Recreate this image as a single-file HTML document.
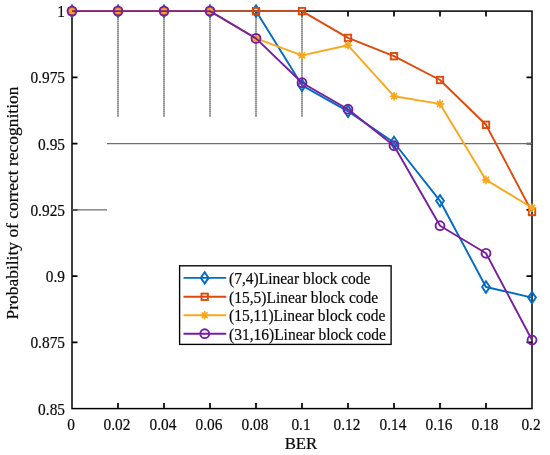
<!DOCTYPE html>
<html><head><meta charset="utf-8"><title>BER plot</title>
<style>
html,body{margin:0;padding:0;background:#fff}
#c{position:relative;width:550px;height:455px;overflow:hidden;background:#fff;font-family:"Liberation Serif",serif;color:#0a0a0a;-webkit-text-stroke:0.2px #0a0a0a}
.xt{position:absolute;top:414.6px;width:60px;height:20px;line-height:20px;text-align:center;font-size:16px;transform:scaleX(0.96)}
.yt{position:absolute;left:0;width:65px;height:20px;line-height:20px;text-align:right;font-size:16px;transform:scaleX(0.96);transform-origin:100% 50%}
.lg{position:absolute;left:229px;height:20px;line-height:20px;font-size:16px;white-space:nowrap;transform:scaleX(0.968);transform-origin:0 50%}
#xl{position:absolute;left:270.7px;top:433.5px;width:60px;height:20px;line-height:20px;text-align:center;font-size:17.3px;transform:scaleX(0.97)}
#yl{position:absolute;left:12.3px;top:202.9px;width:0;height:0;font-size:17.45px;white-space:nowrap}
#yl span{position:absolute;left:-150px;width:300px;top:-10px;height:20px;line-height:20px;text-align:center;transform:scaleX(0.96) rotate(-90deg);transform-origin:50% 50%}
</style></head><body>
<div id="c">
<svg width="550" height="455" viewBox="0 0 550 455" style="position:absolute;left:0;top:0">
<rect width="550" height="455" fill="#fff"/>
<rect x="72" y="11.1" width="460" height="397.5" fill="none" stroke="#000" stroke-width="1.5"/>
<path d="M118.0 408.6V403.1M118.0 11.1V16.6M164.0 408.6V403.1M164.0 11.1V16.6M210.0 408.6V403.1M210.0 11.1V16.6M256.0 408.6V403.1M256.0 11.1V16.6M302.0 408.6V403.1M302.0 11.1V16.6M348.0 408.6V403.1M348.0 11.1V16.6M394.0 408.6V403.1M394.0 11.1V16.6M440.0 408.6V403.1M440.0 11.1V16.6M486.0 408.6V403.1M486.0 11.1V16.6M72 77.4H77.5M532 77.4H526.5M72 143.6H77.5M532 143.6H526.5M72 209.8H77.5M532 209.8H526.5M72 276.1H77.5M532 276.1H526.5M72 342.4H77.5M532 342.4H526.5" stroke="#000" stroke-width="1.7" fill="none"/>
<path d="M118.0 11.1V117M164.0 11.1V117M210.0 11.1V117M256.0 11.1V117M302.0 11.1V117" stroke="#585858" stroke-width="1.25" fill="none" stroke-dasharray="1.6 0.4"/>
<path d="M107 143.6H532M72 209.8H107" stroke="#6e6e6e" stroke-width="1.3" fill="none"/>
<polyline points="72.0,11.1 118.0,11.1 164.0,11.1 210.0,11.1 256.0,11.1 302.0,85.3 348.0,111.3 394.0,142.5 440.0,200.8 486.0,287.0 532.0,297.6" fill="none" stroke="#006CC2" stroke-width="1.9" stroke-linejoin="round"/>
<path d="M72.0 5.4L75.9 11.1L72.0 16.8L68.1 11.1Z" fill="none" stroke="#006CC2" stroke-width="1.9" stroke-linejoin="miter"/>
<path d="M118.0 5.4L121.9 11.1L118.0 16.8L114.1 11.1Z" fill="none" stroke="#006CC2" stroke-width="1.9" stroke-linejoin="miter"/>
<path d="M164.0 5.4L167.9 11.1L164.0 16.8L160.1 11.1Z" fill="none" stroke="#006CC2" stroke-width="1.9" stroke-linejoin="miter"/>
<path d="M210.0 5.4L213.9 11.1L210.0 16.8L206.1 11.1Z" fill="none" stroke="#006CC2" stroke-width="1.9" stroke-linejoin="miter"/>
<path d="M256.0 5.4L259.9 11.1L256.0 16.8L252.1 11.1Z" fill="none" stroke="#006CC2" stroke-width="1.9" stroke-linejoin="miter"/>
<path d="M302.0 79.6L305.9 85.3L302.0 91.0L298.1 85.3Z" fill="none" stroke="#006CC2" stroke-width="1.9" stroke-linejoin="miter"/>
<path d="M348.0 105.6L351.9 111.3L348.0 117.0L344.1 111.3Z" fill="none" stroke="#006CC2" stroke-width="1.9" stroke-linejoin="miter"/>
<path d="M394.0 136.8L397.9 142.5L394.0 148.2L390.1 142.5Z" fill="none" stroke="#006CC2" stroke-width="1.9" stroke-linejoin="miter"/>
<path d="M440.0 195.1L443.9 200.8L440.0 206.5L436.1 200.8Z" fill="none" stroke="#006CC2" stroke-width="1.9" stroke-linejoin="miter"/>
<path d="M486.0 281.3L489.9 287.0L486.0 292.7L482.1 287.0Z" fill="none" stroke="#006CC2" stroke-width="1.9" stroke-linejoin="miter"/>
<path d="M532.0 291.9L535.9 297.6L532.0 303.3L528.1 297.6Z" fill="none" stroke="#006CC2" stroke-width="1.9" stroke-linejoin="miter"/>
<polyline points="72.0,11.1 118.0,11.1 164.0,11.1 210.0,11.1 256.0,11.1 302.0,11.1 348.0,37.9 394.0,56.2 440.0,80.0 486.0,124.8 532.0,212.0" fill="none" stroke="#DE4A0C" stroke-width="1.9" stroke-linejoin="round"/>
<rect x="68.8" y="7.9" width="6.4" height="6.4" fill="none" stroke="#DE4A0C" stroke-width="1.9"/>
<rect x="114.8" y="7.9" width="6.4" height="6.4" fill="none" stroke="#DE4A0C" stroke-width="1.9"/>
<rect x="160.8" y="7.9" width="6.4" height="6.4" fill="none" stroke="#DE4A0C" stroke-width="1.9"/>
<rect x="206.8" y="7.9" width="6.4" height="6.4" fill="none" stroke="#DE4A0C" stroke-width="1.9"/>
<rect x="252.8" y="7.9" width="6.4" height="6.4" fill="none" stroke="#DE4A0C" stroke-width="1.9"/>
<rect x="298.8" y="7.9" width="6.4" height="6.4" fill="none" stroke="#DE4A0C" stroke-width="1.9"/>
<rect x="344.8" y="34.7" width="6.4" height="6.4" fill="none" stroke="#DE4A0C" stroke-width="1.9"/>
<rect x="390.8" y="53.0" width="6.4" height="6.4" fill="none" stroke="#DE4A0C" stroke-width="1.9"/>
<rect x="436.8" y="76.8" width="6.4" height="6.4" fill="none" stroke="#DE4A0C" stroke-width="1.9"/>
<rect x="482.8" y="121.6" width="6.4" height="6.4" fill="none" stroke="#DE4A0C" stroke-width="1.9"/>
<rect x="528.8" y="208.8" width="6.4" height="6.4" fill="none" stroke="#DE4A0C" stroke-width="1.9"/>
<polyline points="72.0,11.1 118.0,11.1 164.0,11.1 210.0,11.1 256.0,38.4 302.0,55.4 348.0,45.3 394.0,96.2 440.0,103.9 486.0,179.9 532.0,207.7" fill="none" stroke="#F7A81C" stroke-width="1.9" stroke-linejoin="round"/>
<path d="M67.7 11.1L76.3 11.1M69.0 8.1L75.0 14.1M72.0 6.8L72.0 15.4M75.0 8.1L69.0 14.1" fill="none" stroke="#F7A81C" stroke-width="1.5"/><circle cx="72.0" cy="11.1" r="2.7" fill="#F7A81C"/>
<path d="M113.7 11.1L122.3 11.1M115.0 8.1L121.0 14.1M118.0 6.8L118.0 15.4M121.0 8.1L115.0 14.1" fill="none" stroke="#F7A81C" stroke-width="1.5"/><circle cx="118.0" cy="11.1" r="2.7" fill="#F7A81C"/>
<path d="M159.7 11.1L168.3 11.1M161.0 8.1L167.0 14.1M164.0 6.8L164.0 15.4M167.0 8.1L161.0 14.1" fill="none" stroke="#F7A81C" stroke-width="1.5"/><circle cx="164.0" cy="11.1" r="2.7" fill="#F7A81C"/>
<path d="M205.7 11.1L214.3 11.1M207.0 8.1L213.0 14.1M210.0 6.8L210.0 15.4M213.0 8.1L207.0 14.1" fill="none" stroke="#F7A81C" stroke-width="1.5"/><circle cx="210.0" cy="11.1" r="2.7" fill="#F7A81C"/>
<path d="M251.7 38.4L260.3 38.4M253.0 35.4L259.0 41.4M256.0 34.1L256.0 42.7M259.0 35.4L253.0 41.4" fill="none" stroke="#F7A81C" stroke-width="1.5"/><circle cx="256.0" cy="38.4" r="2.7" fill="#F7A81C"/>
<path d="M297.7 55.4L306.3 55.4M299.0 52.3L305.0 58.4M302.0 51.1L302.0 59.7M305.0 52.3L299.0 58.4" fill="none" stroke="#F7A81C" stroke-width="1.5"/><circle cx="302.0" cy="55.4" r="2.7" fill="#F7A81C"/>
<path d="M343.7 45.3L352.3 45.3M345.0 42.2L351.0 48.3M348.0 41.0L348.0 49.6M351.0 42.2L345.0 48.3" fill="none" stroke="#F7A81C" stroke-width="1.5"/><circle cx="348.0" cy="45.3" r="2.7" fill="#F7A81C"/>
<path d="M389.7 96.2L398.3 96.2M391.0 93.1L397.0 99.2M394.0 91.9L394.0 100.5M397.0 93.1L391.0 99.2" fill="none" stroke="#F7A81C" stroke-width="1.5"/><circle cx="394.0" cy="96.2" r="2.7" fill="#F7A81C"/>
<path d="M435.7 103.9L444.3 103.9M437.0 100.8L443.0 106.9M440.0 99.6L440.0 108.2M443.0 100.8L437.0 106.9" fill="none" stroke="#F7A81C" stroke-width="1.5"/><circle cx="440.0" cy="103.9" r="2.7" fill="#F7A81C"/>
<path d="M481.7 179.9L490.3 179.9M483.0 176.9L489.0 182.9M486.0 175.6L486.0 184.2M489.0 176.9L483.0 182.9" fill="none" stroke="#F7A81C" stroke-width="1.5"/><circle cx="486.0" cy="179.9" r="2.7" fill="#F7A81C"/>
<path d="M527.7 207.7L536.3 207.7M529.0 204.7L535.0 210.8M532.0 203.4L532.0 212.0M535.0 204.7L529.0 210.8" fill="none" stroke="#F7A81C" stroke-width="1.5"/><circle cx="532.0" cy="207.7" r="2.7" fill="#F7A81C"/>
<polyline points="72.0,11.1 118.0,11.1 164.0,11.1 210.0,11.1 256.0,38.4 302.0,82.7 348.0,109.2 394.0,145.7 440.0,225.7 486.0,253.3 532.0,340.0" fill="none" stroke="#771FA0" stroke-width="1.9" stroke-linejoin="round"/>
<circle cx="72.0" cy="11.1" r="4.45" fill="none" stroke="#771FA0" stroke-width="1.9"/>
<circle cx="118.0" cy="11.1" r="4.45" fill="none" stroke="#771FA0" stroke-width="1.9"/>
<circle cx="164.0" cy="11.1" r="4.45" fill="none" stroke="#771FA0" stroke-width="1.9"/>
<circle cx="210.0" cy="11.1" r="4.45" fill="none" stroke="#771FA0" stroke-width="1.9"/>
<circle cx="256.0" cy="38.4" r="4.45" fill="none" stroke="#771FA0" stroke-width="1.9"/>
<circle cx="302.0" cy="82.7" r="4.45" fill="none" stroke="#771FA0" stroke-width="1.9"/>
<circle cx="348.0" cy="109.2" r="4.45" fill="none" stroke="#771FA0" stroke-width="1.9"/>
<circle cx="394.0" cy="145.7" r="4.45" fill="none" stroke="#771FA0" stroke-width="1.9"/>
<circle cx="440.0" cy="225.7" r="4.45" fill="none" stroke="#771FA0" stroke-width="1.9"/>
<circle cx="486.0" cy="253.3" r="4.45" fill="none" stroke="#771FA0" stroke-width="1.9"/>
<circle cx="532.0" cy="340.0" r="4.45" fill="none" stroke="#771FA0" stroke-width="1.9"/>
<rect x="179.6" y="265.8" width="211.5" height="78.6" fill="#fff" stroke="#000" stroke-width="1.35"/>
<path d="M183.5 277.9H226.2" stroke="#006CC2" stroke-width="1.9"/>
<path d="M204.7 272.2L208.6 277.9L204.7 283.6L200.8 277.9Z" fill="none" stroke="#006CC2" stroke-width="1.9" stroke-linejoin="miter"/>
<path d="M183.5 296.8H226.2" stroke="#DE4A0C" stroke-width="1.9"/>
<rect x="201.5" y="293.6" width="6.4" height="6.4" fill="none" stroke="#DE4A0C" stroke-width="1.9"/>
<path d="M183.5 315.3H226.2" stroke="#F7A81C" stroke-width="1.9"/>
<path d="M200.4 315.3L209.0 315.3M201.7 312.3L207.7 318.3M204.7 311.0L204.7 319.6M207.7 312.3L201.7 318.3" fill="none" stroke="#F7A81C" stroke-width="1.5"/><circle cx="204.7" cy="315.3" r="2.7" fill="#F7A81C"/>
<path d="M183.5 333.7H226.2" stroke="#771FA0" stroke-width="1.9"/>
<circle cx="204.7" cy="333.7" r="4.45" fill="none" stroke="#771FA0" stroke-width="1.9"/>
</svg>
<div class="xt" style="left:41.4px">0</div>
<div class="xt" style="left:87.4px">0.02</div>
<div class="xt" style="left:133.4px">0.04</div>
<div class="xt" style="left:179.4px">0.06</div>
<div class="xt" style="left:225.4px">0.08</div>
<div class="xt" style="left:271.4px">0.1</div>
<div class="xt" style="left:317.4px">0.12</div>
<div class="xt" style="left:363.4px">0.14</div>
<div class="xt" style="left:409.4px">0.16</div>
<div class="xt" style="left:455.4px">0.18</div>
<div class="xt" style="left:501.4px">0.2</div>
<div class="yt" style="top:2.1px">1</div>
<div class="yt" style="top:68.4px">0.975</div>
<div class="yt" style="top:134.6px">0.95</div>
<div class="yt" style="top:200.8px">0.925</div>
<div class="yt" style="top:267.1px">0.9</div>
<div class="yt" style="top:333.4px">0.875</div>
<div class="yt" style="top:399.6px">0.85</div>
<div class="lg" style="top:269.0px">(7,4)Linear block code</div>
<div class="lg" style="top:287.9px">(15,5)Linear block code</div>
<div class="lg" style="top:306.4px">(15,11)Linear block code</div>
<div class="lg" style="top:324.8px">(31,16)Linear block code</div>
<div id="xl">BER</div>
<div id="yl"><span>Probability of correct recognition</span></div>
</div>
</body></html>
